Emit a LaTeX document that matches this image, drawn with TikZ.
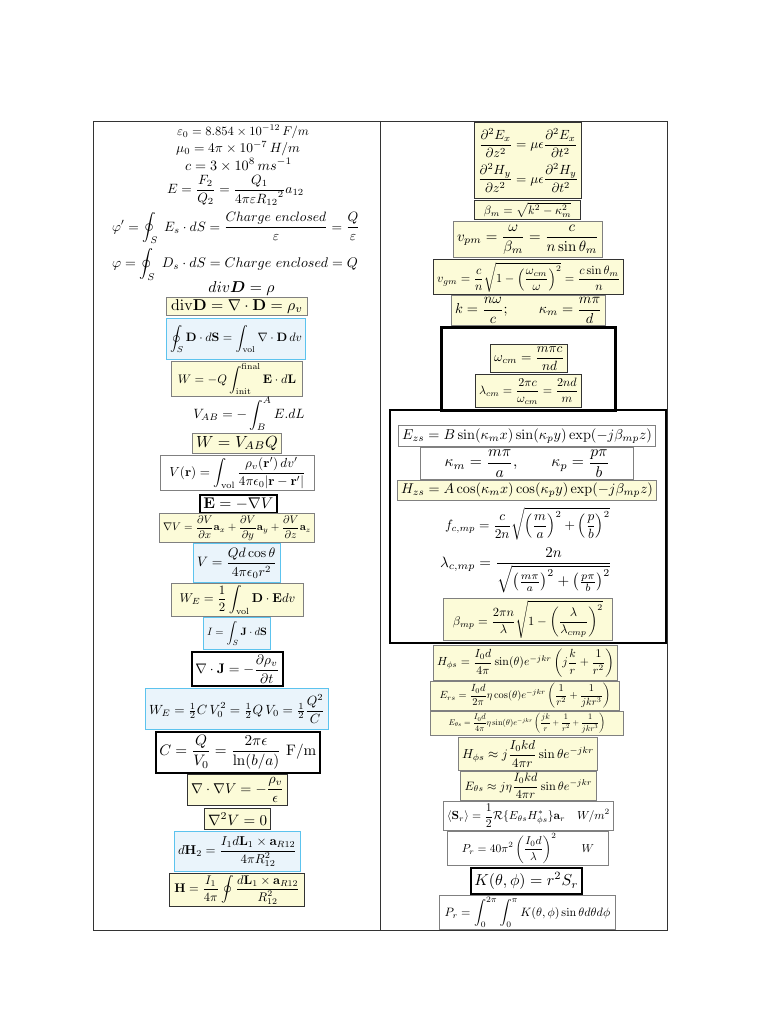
\documentclass[tikz,border=0pt]{standalone}
\usepackage{amsmath,amssymb,graphicx}
\definecolor{ylw}{HTML}{FCFBD8}
\definecolor{blu}{HTML}{EAF4FB}
\definecolor{bluB}{HTML}{5CC3EE}
\definecolor{gryB}{HTML}{808080}
\newsavebox\eqbox
\newcommand\fitin[3]{\sbox\eqbox{#3}\pgfmathsetmacro\sx{(#1)/(\wd\eqbox)}\pgfmathsetmacro\sy{(#2)/(\ht\eqbox+\dp\eqbox)}\pgfmathsetmacro\ss{min(\sx,\sy)}\scalebox{\ss}{\usebox\eqbox}}
% \fb{name}{x1}{y1}{x2}{y2}{style}{content}
\newcommand\fb[7]{\pgfmathsetmacro\ww{#4-#2}\pgfmathsetmacro\hh{#5-#3}%
\node[#6,anchor=north west,minimum width=\ww pt,minimum height=\hh pt,inner sep=0pt] (#1) at (#2,#3) {};
\node[inner sep=0pt] (#1t) at (#1.center) {\fitin{\ww-7}{\hh-4}{$\displaystyle #7$}};}
\newcommand\fp[6]{\pgfmathsetmacro\ww{#4-#2}\pgfmathsetmacro\hh{#5-#3}%
\node[inner sep=0pt] (#1) at ({(#2+#4)/2},{(#3+#5)/2}) {\fitin{\ww}{\hh}{$\displaystyle #6$}};}
\begin{document}
\begin{tikzpicture}[x=1pt,y=-1pt,
Y/.style={fill=ylw,draw=gryB,line width=1pt},
YD/.style={fill=ylw,draw=black!80,line width=1.2pt},
B/.style={fill=blu,draw=bluB,line width=1pt},
W/.style={fill=white,draw=gryB,line width=1pt},
WD/.style={fill=white,draw=black,line width=1.6pt}]
\useasboundingbox (0,0) rectangle (768,1024);
\node[draw=black!80,line width=1pt,anchor=north west,minimum width=574pt,minimum height=809pt,inner sep=0pt] (frame) at (93,121) {};
\coordinate (dt) at (380,121); \coordinate (db) at (380,930);
\draw[line width=1pt,black!80] (dt) -- (db);
% left column
\fp{a1}{163}{125}{323}{139}{\varepsilon_0=8.854\times10^{-12}\,F/m}
\fp{a2}{172}{141}{304}{156}{\mu_0=4\pi\times10^{-7}\,H/m}
\fp{a3}{185}{157}{292}{172}{c=3\times10^{8}\,ms^{-1}}
\fp{a4}{167}{175}{304}{206}{E=\frac{F_2}{Q_2}=\frac{Q_1}{4\pi\varepsilon {R_{12}}^2}a_{12}}
\fp{a5}{112}{210}{360}{246}{\varphi'=\oint_S\; E_s\cdot dS=\frac{Charge\ enclosed}{\varepsilon}=\frac{Q}{\varepsilon}}
\fp{a6}{112}{248}{358}{281}{\varphi=\oint_S\; D_s\cdot dS=Charge\ enclosed=Q}
\fp{a7}{207}{282}{276}{296}{div\boldsymbol{D}=\rho}
\fb{b1}{166}{297}{307}{315}{Y}{\mathrm{div}\mathbf{D}=\nabla\cdot\mathbf{D}=\rho_v}
\fb{b2}{166}{318}{305}{359}{B}{\oint_S\mathbf{D}\cdot d\mathbf{S}=\int_{\mathrm{vol}}\nabla\cdot\mathbf{D}\,dv}
\fb{b3}{171}{361}{302}{396}{Y}{W=-Q\int_{\mathrm{init}}^{\mathrm{final}}\mathbf{E}\cdot d\mathbf{L}}
\node[inner sep=0pt] (a8) at (249,414) {\scalebox{1.35}{$\displaystyle V_{AB}=-\int_B^A E.dL$}};
\fb{b4}{192}{433}{281}{453}{Y}{W=V_{AB}Q}
\fb{b5}{160}{455}{314}{490}{W}{V(\mathbf{r})=\int_{\mathrm{vol}}\frac{\rho_v(\mathbf{r}')\,dv'}{4\pi\epsilon_0|\mathbf{r}-\mathbf{r}'|}}
\fb{b6}{199}{494}{276}{512}{WD}{\mathbf{E}=-\nabla V}
\fb{b7}{159}{513}{314}{542}{Y}{\nabla V=\frac{\partial V}{\partial x}\mathbf{a}_x+\frac{\partial V}{\partial y}\mathbf{a}_y+\frac{\partial V}{\partial z}\mathbf{a}_z}
\fb{b8}{193}{543}{280}{582}{B}{V=\frac{Qd\cos\theta}{4\pi\epsilon_0r^2}}
\fb{b9}{171}{583}{303}{616}{Y}{W_E=\frac12\int_{\mathrm{vol}}\mathbf{D}\cdot\mathbf{E}dv}
\fb{b10}{203}{617}{270}{649}{B}{I=\int_S\mathbf{J}\cdot d\mathbf{S}}
\fb{b11}{191}{651}{282}{685}{WD}{\nabla\cdot\mathbf{J}=-\frac{\partial\rho_v}{\partial t}}
\fb{b12}{145}{688}{328}{729}{B}{W_E=\tfrac12C\,V_0^2=\tfrac12Q\,V_0=\tfrac12\frac{Q^2}{C}}
\fb{b13}{155}{731}{319}{772}{WD}{C=\frac{Q}{V_0}=\frac{2\pi\epsilon}{\ln(b/a)}\ \mathrm{F/m}}
\fb{b14}{187}{774}{287}{805}{YD}{\nabla\cdot\nabla V=-\frac{\rho_v}{\epsilon}}
\fb{b15}{204}{808}{270}{829}{YD}{\nabla^2V=0}
\fb{b16}{174}{831}{300}{871}{B}{d\mathbf{H}_2=\frac{I_1d\mathbf{L}_1\times\mathbf{a}_{R12}}{4\pi R_{12}^2}}
\fb{b17}{169}{873}{304}{906}{YD}{\mathbf{H}=\frac{I_1}{4\pi}\oint\frac{d\mathbf{L}_1\times\mathbf{a}_{R12}}{R_{12}^2}}
% right column
\fb{c1}{474}{122}{581}{198}{YD}{\begin{gathered}\frac{\partial^2E_x}{\partial z^2}=\mu\epsilon\frac{\partial^2E_x}{\partial t^2}\\ \frac{\partial^2H_y}{\partial z^2}=\mu\epsilon\frac{\partial^2H_y}{\partial t^2}\end{gathered}}
\fb{c2}{474}{200}{580}{219}{YD}{\beta_m=\sqrt{k^2-\kappa_m^2}}
\fb{c3}{453}{221}{602}{257}{Y}{v_{pm}=\frac{\omega}{\beta_m}=\frac{c}{n\sin\theta_m}}
\fb{c4}{433}{259}{623}{294}{YD}{v_{gm}=\frac{c}{n}\sqrt{1-\left(\frac{\omega_{cm}}{\omega}\right)^2}=\frac{c\sin\theta_m}{n}}
\fb{c5}{451}{295}{605}{325}{Y}{k=\frac{n\omega}{c};\qquad\kappa_m=\frac{m\pi}{d}}
\node[draw=black,line width=2.5pt,anchor=north west,minimum width=174pt,minimum height=83pt,inner sep=0pt] (g1) at (440,326) {};
\fb{c6}{490}{344}{567}{372}{YD}{\omega_{cm}=\frac{m\pi c}{nd}}
\fb{c7}{475}{374}{581}{407}{YD}{\lambda_{cm}=\frac{2\pi c}{\omega_{cm}}=\frac{2nd}{m}}
\node[draw=black,line width=1.8pt,anchor=north west,minimum width=276pt,minimum height=233pt,inner sep=0pt] (g2) at (389,409) {};
\fb{c8}{398}{425}{655}{446}{W}{E_{zs}=B\sin(\kappa_mx)\sin(\kappa_py)\exp(-j\beta_{mp}z)}
\fb{c9}{420}{447}{633}{479}{W}{\kappa_m=\frac{m\pi}{a},\qquad\kappa_p=\frac{p\pi}{b}}
\fb{c10}{397}{480}{656}{500}{Y}{H_{zs}=A\cos(\kappa_mx)\cos(\kappa_py)\exp(-j\beta_{mp}z)}
\fp{c11}{445}{502}{610}{545}{f_{c,mp}=\frac{c}{2n}\sqrt{\left(\frac{m}{a}\right)^2+\left(\frac{p}{b}\right)^2}}
\fp{c12}{440}{546}{612}{595}{\lambda_{c,mp}=\frac{2n}{\sqrt{\left(\frac{m\pi}{a}\right)^2+\left(\frac{p\pi}{b}\right)^2}}}
\fb{c13}{443}{598}{612}{640}{Y}{\beta_{mp}=\frac{2\pi n}{\lambda}\sqrt{1-\left(\frac{\lambda}{\lambda_{cmp}}\right)^2}}
\fb{d1}{433}{645}{617}{680}{Y}{H_{\phi s}=\frac{I_0d}{4\pi}\sin(\theta)e^{-jkr}\left(j\frac{k}{r}+\frac{1}{r^2}\right)}
\fb{d2}{430}{681}{619}{710}{Y}{E_{rs}=\frac{I_0d}{2\pi}\eta\cos(\theta)e^{-jkr}\left(\frac{1}{r^2}+\frac{1}{jkr^3}\right)}
\fb{d3}{430}{711}{623}{735}{Y}{E_{\theta s}=\frac{I_0d}{4\pi}\eta\sin(\theta)e^{-jkr}\left(\frac{jk}{r}+\frac{1}{r^2}+\frac{1}{jkr^3}\right)}
\fb{d4}{458}{737}{597}{770}{Y}{H_{\phi s}\approx j\frac{I_0kd}{4\pi r}\sin\theta e^{-jkr}}
\fb{d5}{460}{771}{596}{800}{Y}{E_{\theta s}\approx j\eta\frac{I_0kd}{4\pi r}\sin\theta e^{-jkr}}
\fb{d6}{443}{801}{613}{830}{W}{\langle\mathbf{S}_r\rangle=\frac12\mathcal{R}\{E_{\theta s}H_{\phi s}^*\}\mathbf{a}_r\quad W/m^2}
\fb{d7}{447}{831}{608}{865}{W}{P_r=40\pi^2\left(\frac{I_0d}{\lambda}\right)^2\qquad W}
\fb{d8}{470}{867}{581}{893}{WD}{K(\theta,\phi)=r^2S_r}
\fb{d9}{439}{895}{615}{929}{W}{P_r=\int_0^{2\pi}\int_0^{\pi}K(\theta,\phi)\sin\theta d\theta d\phi}
\end{tikzpicture}
\end{document}
